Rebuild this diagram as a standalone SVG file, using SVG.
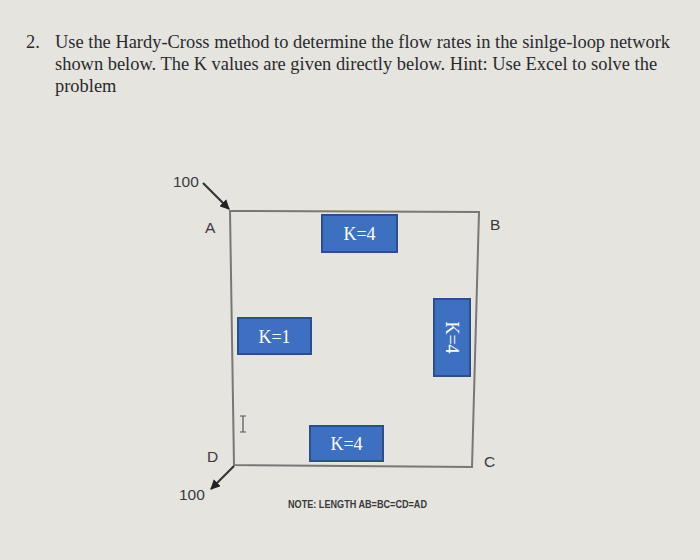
<svg xmlns="http://www.w3.org/2000/svg" width="700" height="560" viewBox="0 0 700 560">
<style>
.title{font-family:"Liberation Serif",serif;font-size:19.5px;fill:#2a2a2e}
.lbl{font-family:"Liberation Sans",sans-serif;font-size:15.5px;fill:#3a3a3e}
.kbox{fill:#3e70c2;stroke:#2c4f8c;stroke-width:2}
.ktxt{font-family:"Liberation Serif",serif;font-size:18px;fill:#ffffff;text-anchor:middle}
.pipe{fill:none;stroke:#7a7876;stroke-width:2}
.arr{stroke:#333;stroke-width:2.2;fill:none}
</style>
<defs>
<marker id="ah" viewBox="0 0 10 10" refX="9" refY="5" markerWidth="4.5" markerHeight="4.5" orient="auto"><path d="M0,0 L10,5 L0,10 z" fill="#222"/></marker>
</defs>
<rect width="700" height="560" fill="#e5e4df"/>
<g id="title">
<text class="title" transform="translate(26,48) scale(0.945,1)">2.</text>
<text class="title" transform="translate(55,48) scale(0.945,1)">Use the Hardy-Cross method to determine the flow rates in the sinlge-loop network</text>
<text class="title" transform="translate(55,70) scale(0.945,1)">shown below. The K values are given directly below. Hint: Use Excel to solve the</text>
<text class="title" transform="translate(55,92) scale(0.945,1)">problem</text>
</g>
<g id="connectors">
<polygon class="pipe" points="230,211 479,212 472,467 234,465"/>
<line class="arr" x1="203" y1="183" x2="229" y2="209" marker-end="url(#ah)"/>
<line class="arr" x1="234" y1="466" x2="211" y2="489" marker-end="url(#ah)"/>
</g>
<g id="node-A"><text class="lbl" x="205" y="233">A</text></g>
<g id="node-B"><text class="lbl" x="490" y="230">B</text></g>
<g id="node-C"><text class="lbl" x="484" y="467">C</text></g>
<g id="node-D"><text class="lbl" x="207" y="462">D</text></g>
<g id="inflow"><text class="lbl" x="173" y="187">100</text></g>
<g id="outflow"><text class="lbl" x="179" y="500">100</text></g>
<g id="pipe-AB"><rect class="kbox" x="322" y="215" width="75" height="37"/><text class="ktxt" x="359.5" y="240">K=4</text></g>
<g id="pipe-AD"><rect class="kbox" x="238" y="318" width="73" height="36"/><text class="ktxt" x="274.5" y="342.5">K=1</text></g>
<g id="pipe-BC"><rect class="kbox" x="434" y="299" width="36" height="77"/><text class="ktxt" transform="translate(446,337.5) rotate(90)" x="0" y="0">K=4</text></g>
<g id="pipe-CD"><rect class="kbox" x="310" y="426" width="73" height="35"/><text class="ktxt" x="346.5" y="450">K=4</text></g>
<g id="cursor"><path d="M240,416 h6 M243,416 v16 M240,432 h6" stroke="#555" stroke-width="1.2" fill="none"/></g>
<g id="note"><text x="288" y="508" style="font-family:'Liberation Sans',sans-serif;font-size:10px;font-weight:bold;fill:#3a3a3a" textLength="139" lengthAdjust="spacingAndGlyphs">NOTE: LENGTH AB=BC=CD=AD</text></g>
</svg>
